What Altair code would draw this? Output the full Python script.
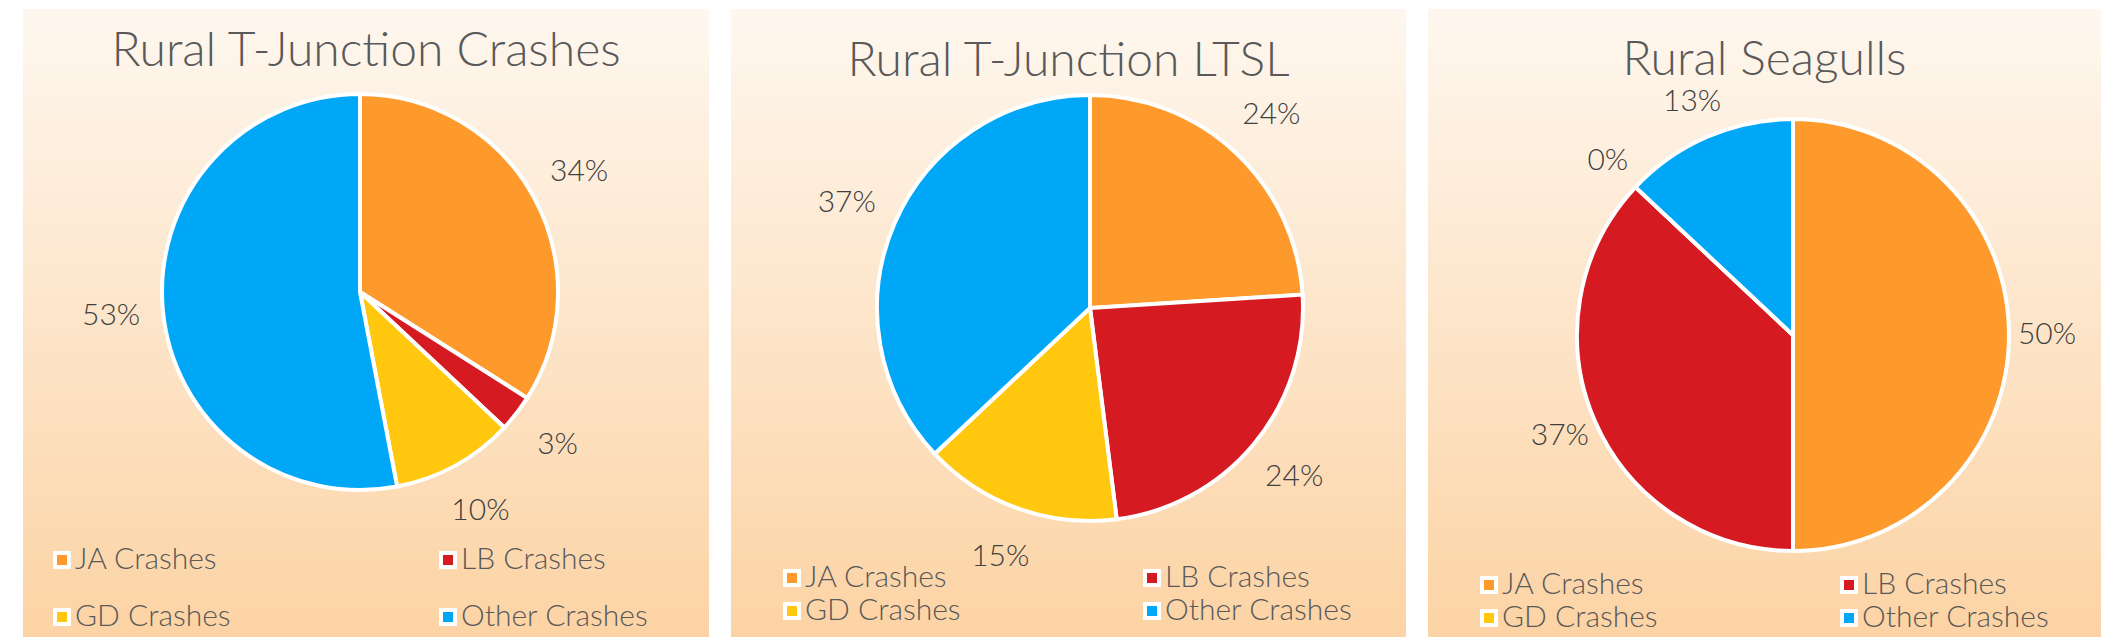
import altair as alt
import pandas as pd

categories = ["JA Crashes", "LB Crashes", "GD Crashes", "Other Crashes"]
colors = ["#FE9A2C", "#D61A22", "#FFC70E", "#00A7F7"]

titles = ["Rural T-Junction Crashes", "Rural T-Junction LTSL", "Rural Seagulls"]
crashes_vals = [34, 3, 10, 53]
ltsl_vals = [24, 24, 15, 37]
seagull_vals = [50, 37, 0, 13]

FONT = "Lato"
WEIGHT = 300
GRAD = {
    "gradient": "linear",
    "stops": [
        {"offset": 0, "color": "#FEF7EF"},
        {"offset": 1, "color": "#FCD3A4"},
    ],
    "x1": 0, "y1": 0, "x2": 0, "y2": 1,
}


def panel(title, values, w, h, cx, cy, r, loff, title_y, lx, ly, colpad, rowpad):
    df = pd.DataFrame({
        "category": categories,
        "value": values,
        "idx": list(range(len(categories))),
    })
    df["label"] = df["value"].astype(str) + "%"
    base = alt.Chart(df)

    bg = alt.Chart(alt.Data(values=[{"bg": 1}])).mark_rect(color=GRAD).encode(
        x=alt.value(0), x2=alt.value("width"), y=alt.value(0), y2=alt.value("height")
    )

    head = alt.Chart(alt.Data(values=[{"t": title}])).mark_text(
        font=FONT, fontSize=48, fontWeight=WEIGHT, color="#595959",
        align="center", baseline="alphabetic"
    ).encode(text="t:N", x=alt.value(w / 2), y=alt.value(title_y))

    pie = base.mark_arc(radius=r, stroke="white", strokeWidth=4).encode(
        theta=alt.Theta("value:Q", stack=True),
        color=alt.Color(
            "category:N",
            scale=alt.Scale(domain=categories, range=colors),
            title=None,
            legend=alt.Legend(
                orient="none", legendX=lx, legendY=ly, columns=2, direction="horizontal",
                symbolType="square", symbolSize=196, symbolStrokeColor="white",
                symbolStrokeWidth=4, symbolOpacity=1,
                labelFont=FONT, labelFontSize=30, labelFontWeight=WEIGHT,
                labelColor="#595959",
                labelOffset={"expr": "-2"}, columnPadding=colpad, rowPadding=rowpad,
                padding=0, labelLimit=400,
            ),
        ),
        order=alt.Order("idx:Q"),
        x=alt.value(cx), y=alt.value(cy),
    )

    labels = base.mark_text(
        radius=r + loff, font=FONT, fontSize=30, fontWeight=WEIGHT, color="#404040"
    ).encode(
        theta=alt.Theta("value:Q", stack=True),
        text="label:N",
        order=alt.Order("idx:Q"),
        x=alt.value(cx), y=alt.value(cy),
    )

    return alt.layer(bg, head, pie, labels).properties(width=w, height=h)


p1 = panel(titles[0], crashes_vals, 686, 628, 337, 283, 198, 52, 57, 24, 536, 202, 27)
p2 = panel(titles[1], ltsl_vals, 675, 628, 359, 299, 213, 52, 67, 46, 554, 176, 3)
p3 = panel(titles[2], seagull_vals, 673, 628, 365, 326, 216, 38, 66, 46, 561, 176, 3)

chart = alt.hconcat(p1, p2, p3, spacing=22).resolve_scale(color="independent").properties(
    padding={"left": 15, "top": 1, "right": 0, "bottom": 0},
    background="white",
).configure_view(strokeWidth=0)

chart.save("out.html", embed_options={"renderer": "svg", "actions": False})
